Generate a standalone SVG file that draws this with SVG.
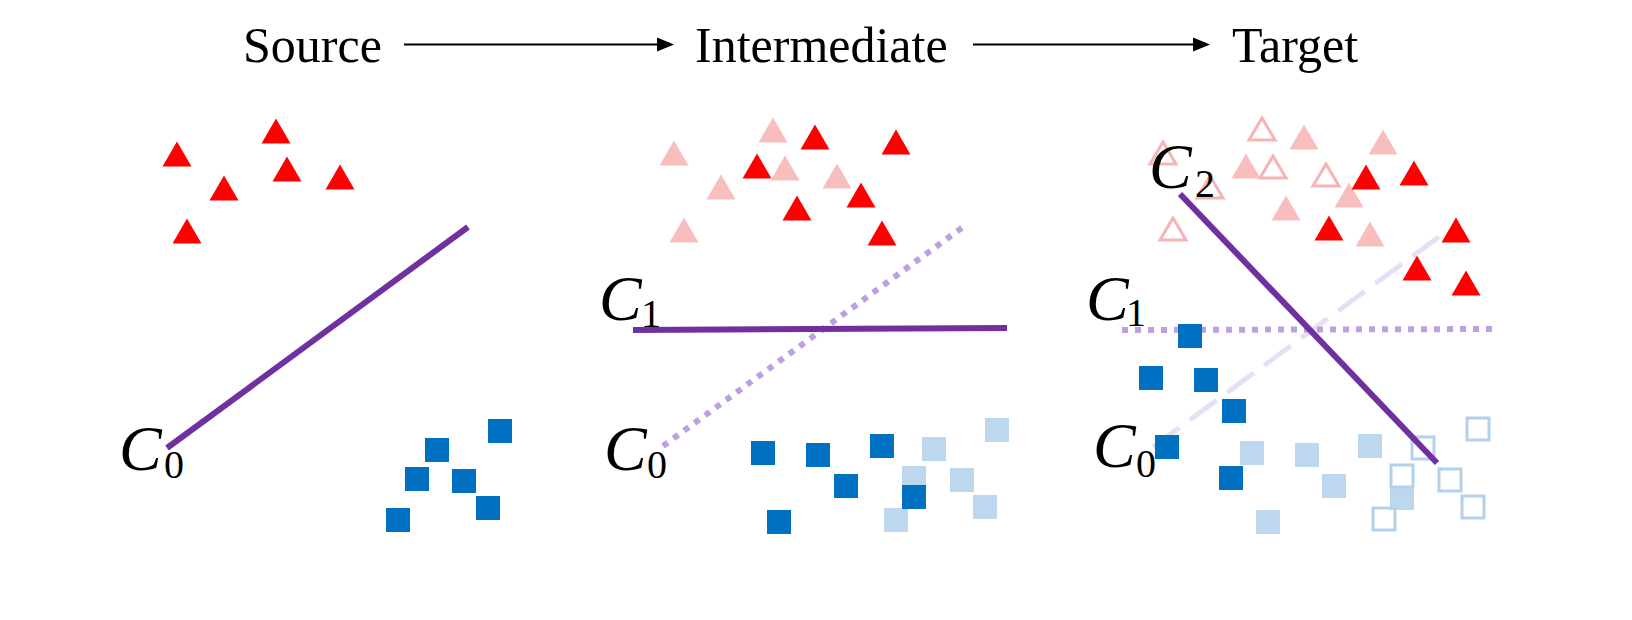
<svg xmlns="http://www.w3.org/2000/svg" xmlns:xlink="http://www.w3.org/1999/xlink" width="1632" height="620" viewBox="0 0 1632 620">
<style>
.title{font-family:"Liberation Serif","Times New Roman",serif;font-size:50px;fill:#000}
.cv{font-family:"Liberation Serif","Times New Roman",serif;font-style:italic;font-size:64px;fill:#000}
.sub{font-family:"Liberation Serif","Times New Roman",serif;font-size:40px;fill:#000}
.red{fill:#FF0000}
.pink{fill:#F8BEBE}
.pinko{fill:none;stroke:#F6B4B4;stroke-width:3}
.blue{fill:#0070C0}
.lblue{fill:#BDD7EE}
.lblueo{fill:none;stroke:#B3D0EC;stroke-width:3}
.solid{stroke:#7030A0;stroke-width:6;fill:none}
.dotted{stroke:#BCA0E0;stroke-width:6;stroke-dasharray:6 7;fill:none}
.dashed{stroke:#E8DEF5;stroke-width:5;stroke-dasharray:33 13;fill:none}
.arrow{stroke:#000;stroke-width:2;fill:none}
</style>
<defs>
<polygon id="tri" points="0,-12.5 14.5,12.5 -14.5,12.5"/>
<polygon id="trio" points="0,-11 13,11 -13,11"/>
<rect id="sq" x="-12" y="-12" width="24" height="24"/>
<rect id="sqo" x="-11" y="-11" width="22" height="22"/>
</defs>
<rect width="1632" height="620" fill="#fff"/>

<g id="header">
<text class="title" x="243" y="62">Source</text>
<text class="title" x="695" y="62">Intermediate</text>
<text class="title" x="1232" y="62">Target</text>
</g>
<g id="connectors">
<line class="arrow" x1="404" y1="44.5" x2="658" y2="44.5"/>
<polygon points="674,44.5 657,37.5 657,51.5" fill="#000"/>
<line class="arrow" x1="973" y1="44.5" x2="1194" y2="44.5"/>
<polygon points="1210,44.5 1193,37.5 1193,51.5" fill="#000"/>
</g>

<g id="source">
<g class="red">
<use href="#tri" x="177" y="154"/>
<use href="#tri" x="276" y="131"/>
<use href="#tri" x="224" y="188"/>
<use href="#tri" x="287" y="169"/>
<use href="#tri" x="340" y="177"/>
<use href="#tri" x="187" y="231"/>
</g>
<line class="solid" x1="167" y1="448" x2="468" y2="227"/>
<text class="cv" x="119" y="470">C</text>
<text class="sub" x="164" y="478">0</text>
<g class="blue">
<use href="#sq" x="500" y="431"/>
<use href="#sq" x="437" y="450"/>
<use href="#sq" x="417" y="479"/>
<use href="#sq" x="464" y="481"/>
<use href="#sq" x="488" y="508"/>
<use href="#sq" x="398" y="520"/>
</g>
</g>

<g id="intermediate">
<g class="pink">
<use href="#tri" x="674" y="153"/>
<use href="#tri" x="773" y="130"/>
<use href="#tri" x="721" y="187"/>
<use href="#tri" x="837" y="176"/>
<use href="#tri" x="684" y="230"/>
</g>
<g class="red">
<use href="#tri" x="815" y="137"/>
<use href="#tri" x="896" y="142"/>
<use href="#tri" x="757" y="166"/>
<use href="#tri" x="861" y="195"/>
<use href="#tri" x="797" y="208"/>
<use href="#tri" x="882" y="233"/>
</g>
<use href="#tri" class="pink" x="785" y="168"/>
<line class="dotted" x1="663" y1="446" x2="963" y2="227"/>
<line class="solid" x1="633" y1="330" x2="1007" y2="328"/>
<text class="cv" x="599" y="320">C</text>
<text class="sub" x="641" y="327">1</text>
<text class="cv" x="604" y="470">C</text>
<text class="sub" x="647" y="478">0</text>
<g class="lblue">
<use href="#sq" x="997" y="430"/>
<use href="#sq" x="934" y="449"/>
<use href="#sq" x="914" y="478"/>
<use href="#sq" x="962" y="480"/>
<use href="#sq" x="985" y="507"/>
<use href="#sq" x="896" y="520"/>
</g>
<g class="blue">
<use href="#sq" x="763" y="453"/>
<use href="#sq" x="818" y="455"/>
<use href="#sq" x="882" y="446"/>
<use href="#sq" x="846" y="486"/>
<use href="#sq" x="914" y="497"/>
<use href="#sq" x="779" y="522"/>
</g>
</g>

<g id="target">
<g class="pinko">
<use href="#trio" x="1163" y="153"/>
<use href="#trio" x="1262" y="129"/>
<use href="#trio" x="1273" y="167"/>
<use href="#trio" x="1326" y="175"/>
<use href="#trio" x="1210" y="187"/>
<use href="#trio" x="1173" y="229"/>
</g>
<g class="pink">
<use href="#tri" x="1304" y="137"/>
<use href="#tri" x="1383" y="142"/>
<use href="#tri" x="1246" y="166"/>
<use href="#tri" x="1349" y="195"/>
<use href="#tri" x="1286" y="208"/>
<use href="#tri" x="1370" y="234"/>
</g>
<g class="red">
<use href="#tri" x="1366" y="177"/>
<use href="#tri" x="1414" y="173"/>
<use href="#tri" x="1329" y="228"/>
<use href="#tri" x="1417" y="268"/>
<use href="#tri" x="1456" y="230"/>
<use href="#tri" x="1466" y="283"/>
</g>
<line class="dashed" x1="1153" y1="447" x2="1440" y2="236"/>
<line class="dotted" x1="1122" y1="330" x2="1496" y2="329"/>
<g class="lblue">
<use href="#sq" x="1252" y="453"/>
<use href="#sq" x="1307" y="455"/>
<use href="#sq" x="1370" y="446"/>
<use href="#sq" x="1334" y="486"/>
<use href="#sq" x="1268" y="522"/>
<use href="#sq" x="1402" y="498"/>
</g>
<g class="lblueo">
<use href="#sqo" x="1423" y="448"/>
<use href="#sqo" x="1402" y="476"/>
<use href="#sqo" x="1450" y="480"/>
<use href="#sqo" x="1384" y="519"/>
<use href="#sqo" x="1473" y="507"/>
<use href="#sqo" x="1478" y="429"/>
</g>
<g class="blue">
<use href="#sq" x="1190" y="336"/>
<use href="#sq" x="1151" y="378"/>
<use href="#sq" x="1206" y="380"/>
<use href="#sq" x="1234" y="411"/>
<use href="#sq" x="1167" y="447"/>
<use href="#sq" x="1231" y="478"/>
</g>
<line class="solid" x1="1180" y1="194" x2="1437" y2="463"/>
<text class="cv" x="1149" y="188">C</text>
<text class="sub" x="1195" y="197">2</text>
<text class="cv" x="1086" y="320">C</text>
<text class="sub" x="1126" y="326">1</text>
<text class="cv" x="1093" y="467">C</text>
<text class="sub" x="1136" y="477">0</text>
</g>
</svg>
